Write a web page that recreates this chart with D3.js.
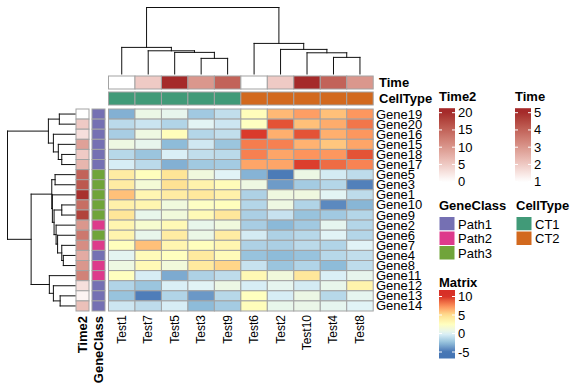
<!DOCTYPE html>
<html><head><meta charset="utf-8">
<script src="https://cdn.jsdelivr.net/npm/d3@7"></script>
<style>body{margin:0;background:#fff} svg{display:block} text{font-family:"Liberation Sans",Arial,Helvetica,sans-serif;fill:#000}</style>
</head><body><svg id="c" width="578" height="391"></svg>
<script>
// ---------- data ----------
const tests = ["Test1","Test7","Test5","Test3","Test9","Test6","Test2","Test10","Test4","Test8"];
const genes = ["Gene19","Gene20","Gene16","Gene15","Gene18","Gene17","Gene5","Gene3","Gene1","Gene10",
               "Gene9","Gene2","Gene6","Gene7","Gene4","Gene8","Gene11","Gene12","Gene13","Gene14"];
const values = [
  [-3.0, 0.8, 0.5,-2.0,-1.0, 2.7, 6.2, 7.0, 6.0, 7.2],
  [-1.2,-0.7,-1.5, 0.2,-0.6, 2.4, 9.2, 6.0, 6.6, 8.2],
  [-1.8, 1.0, 2.7,-1.4,-1.0, 9.8, 6.5, 9.2, 6.5, 7.2],
  [ 1.0, 0.5,-2.6,-0.5,-2.2, 8.0, 7.9, 6.4, 5.8, 6.8],
  [-1.3,-2.2,-0.2,-1.0,-1.2, 7.9, 6.8, 7.3, 7.2, 9.2],
  [-0.3,-1.2,-3.0,-2.0,-1.9, 6.8, 6.8, 9.7, 8.5, 7.8],
  [ 4.0, 2.6, 4.6, 1.2, 0.1,-2.9,-4.8, 0.9,-0.4,-1.1],
  [ 4.0, 1.5, 4.8, 3.5, 2.8, 1.0,-3.7,-1.9,-1.4,-4.6],
  [ 6.0, 3.2, 4.0, 4.3, 3.6,-1.6, 1.1, 1.1, 0.2,-1.1],
  [ 3.6, 3.3, 1.2, 2.3, 2.6,-1.4, 1.0,-1.5,-4.3,-2.8],
  [ 4.5, 0.6, 1.3, 2.9, 4.4,-1.7,-0.8,-2.3,-2.0,-1.4],
  [ 3.3, 1.8, 3.0, 0.6, 1.2,-1.8,-2.7,-2.0, 0.4,-1.4],
  [ 3.4, 0.6, 4.0, 0.8, 4.0,-0.4,-1.6,-1.3, 0.1,-1.4],
  [ 2.6, 6.0, 3.3, 2.6, 3.3,-1.6,-1.7,-1.2,-1.5, 0.1],
  [ 0.3, 2.8, 2.5, 4.2, 2.8,-2.3,-2.6,-2.3,-1.3,-1.0],
  [ 1.0, 3.0, 1.3, 4.2, 5.3,-0.8,-2.2,-1.5,-2.6,-1.1],
  [ 2.5,-0.3,-3.2,-1.6,-1.1, 3.1, 1.3, 4.4,-0.2, 0.5],
  [-1.5,-2.2,-0.2, 0.1, 0.9,-0.3, 0.4,-0.4, 0.6, 3.5],
  [-2.3,-4.7,-1.5,-3.8,-1.3, 2.5,-0.3, 0.9,-1.3, 0.4],
  [-0.6,-1.1,-0.3,-2.6,-1.9, 2.7, 0.6, 0.7, 0.4, 0.1]
];
const timeValues = [1,2,5,3,4,1,2,5,4,3];
const cellTypes = ["CT1","CT1","CT1","CT1","CT1","CT2","CT2","CT2","CT2","CT2"];
const time2Values = [0,5,3,9,5,7,15,16,19.5,14,18,10,13,11,8,10,12,3,1,6];
const geneClasses = ["Path1","Path1","Path1","Path1","Path1","Path1","Path3","Path3","Path3","Path3",
                     "Path3","Path2","Path3","Path2","Path1","Path2","Path2","Path1","Path1","Path1"];
// dendrogram merges: [left, right, height]; numbers refer to earlier merges
const colMerge = [
  ["Test3","Test9",2.35],["Test5",0,3.25],["Test7",1,3.49],["Test1",2,4.0],
  ["Test4","Test8",2.5],["Test10",4,3.19],["Test2",5,3.7],["Test6",6,4.6],[3,7,10]
];
const rowMerge = [
  ["Gene19","Gene20",2.32],["Gene18","Gene17",1.96],["Gene15",1,2.47],["Gene16",2,3.2],[0,3,3.94],
  ["Gene5","Gene3",2.95],["Gene10","Gene9",1.96],["Gene4","Gene8",1.73],["Gene7",7,1.96],
  ["Gene6",8,2.58],["Gene2",9,2.8],[6,10,3.1],["Gene1",11,3.35],[5,12,3.44],
  ["Gene13","Gene14",2.2],["Gene12",14,3.2],["Gene11",15,3.8],[13,16,6.5],[4,17,10]
];
const matrixTicks = [10,5,0,-5];
const time2Ticks = [20,15,10,5,0];
const timeTicks = [5,4,3,2,1];
const classNames = ["Path1","Path2","Path3"];
const cellTypeNames = ["CT1","CT2"];

// ---------- colours ----------
const matColor = d3.scaleLinear().domain([-5,-2.5,0,2.5,5,7.5,10])
  .range(["#4575B4","#91BFDB","#E0F3F8","#FFFFBF","#FEE090","#FC8D59","#D73027"])
  .interpolate(d3.interpolateLab).clamp(true);
const timeColor = d3.scaleLinear().domain([1,5]).range(["#FFFFFF","#A52A2A"]).interpolate(d3.interpolateLab).clamp(true);
const time2Color = d3.scaleLinear().domain([0,20]).range(["#FFFFFF","#A52A2A"]).interpolate(d3.interpolateLab).clamp(true);
const classColor = d3.scaleOrdinal().domain(classNames).range(["#7570B3","#DD3A8B","#70A43A"]);
const ctColor = d3.scaleOrdinal().domain(cellTypeNames).range(["#419A78","#D2691E"]);
const grid = "#a3a3a3";

const svg = d3.select("#c");

// ---------- scales ----------
const x = d3.scaleBand().domain(tests).range([108.5,373.2]);
const y = d3.scaleBand().domain(genes).range([109,311]);

// ---------- heatmap ----------
const hm = svg.append("g");
genes.forEach((g,i)=>{
  hm.selectAll(null).data(values[i]).join("rect")
    .attr("x",(d,j)=>x(tests[j])).attr("y",y(g))
    .attr("width",x.bandwidth()).attr("height",y.bandwidth())
    .attr("fill",d=>matColor(d)).attr("stroke",grid).attr("stroke-width",1);
});

// column annotations
const colAnn = [{name:"Time",y0:76,vals:timeValues,col:timeColor},{name:"CellType",y0:92,vals:cellTypes,col:ctColor}];
colAnn.forEach(a=>{
  svg.append("g").selectAll("rect").data(a.vals).join("rect")
    .attr("x",(d,j)=>x(tests[j])).attr("y",a.y0).attr("width",x.bandwidth()).attr("height",13)
    .attr("fill",d=>a.col(d)).attr("stroke",grid).attr("stroke-width",1);
  svg.append("text").attr("x",379).attr("y",a.y0+6.5).attr("dominant-baseline","central")
    .attr("font-size",13).attr("font-weight","bold").text(a.name);
});
// row annotations
const rowAnn = [{name:"Time2",x0:76,vals:time2Values,col:time2Color},{name:"GeneClass",x0:92,vals:geneClasses,col:classColor}];
rowAnn.forEach(a=>{
  svg.append("g").selectAll("rect").data(a.vals).join("rect")
    .attr("x",a.x0).attr("y",(d,i)=>y(genes[i])).attr("width",13).attr("height",y.bandwidth())
    .attr("fill",d=>a.col(d)).attr("stroke",grid).attr("stroke-width",1);
  svg.append("text").attr("transform",`translate(${a.x0+6.5},316) rotate(-90)`)
    .attr("text-anchor","end").attr("dominant-baseline","central")
    .attr("font-size",13).attr("font-weight","bold").text(a.name);
});

// labels
svg.append("g").selectAll("text").data(genes).join("text")
  .attr("x",376).attr("y",d=>y(d)+y.bandwidth()/2).attr("dominant-baseline","central")
  .attr("font-size",13).text(d=>d);
svg.append("g").selectAll("text").data(tests).join("text")
  .attr("transform",d=>`translate(${x(d)+x.bandwidth()/2},315) rotate(-90)`)
  .attr("text-anchor","end").attr("dominant-baseline","central")
  .attr("font-size",12).text(d=>d);

// ---------- dendrograms ----------
function buildTree(merge){
  const nodes=[];
  const ref=r=> typeof r==="string" ? {leaf:r,h:0} : nodes[r];
  merge.forEach(m=>nodes.push({children:[ref(m[0]),ref(m[1])],h:m[2]}));
  return nodes[nodes.length-1];
}
function layoutTree(n,pos){
  if(n.leaf){n.p=pos(n.leaf);return;}
  n.children.forEach(c=>layoutTree(c,pos));
  n.p=(n.children[0].p+n.children[1].p)/2;
}
function segs(n,out){
  if(n.leaf) return out;
  const [a,b]=n.children;
  out.push([a.p,a.h,a.p,n.h],[b.p,b.h,b.p,n.h],[a.p,n.h,b.p,n.h]);
  segs(a,out);segs(b,out);return out;
}
const colTree=buildTree(colMerge);
layoutTree(colTree,t=>x(t)+x.bandwidth()/2);
const colH=d3.scaleLinear().domain([0,d3.max(colMerge,m=>m[2])]).range([74,7.5]);
svg.append("g").selectAll("line").data(segs(colTree,[])).join("line")
  .attr("x1",d=>d[0]).attr("y1",d=>colH(d[1])).attr("x2",d=>d[2]).attr("y2",d=>colH(d[3]))
  .attr("stroke","#111").attr("stroke-width",1).attr("stroke-linecap","square");
const rowTree=buildTree(rowMerge);
layoutTree(rowTree,g=>y(g)+y.bandwidth()/2);
const rowH=d3.scaleLinear().domain([0,d3.max(rowMerge,m=>m[2])]).range([75,7.5]);
svg.append("g").selectAll("line").data(segs(rowTree,[])).join("line")
  .attr("y1",d=>d[0]).attr("x1",d=>rowH(d[1])).attr("y2",d=>d[2]).attr("x2",d=>rowH(d[3]))
  .attr("stroke","#111").attr("stroke-width",1).attr("stroke-linecap","square");

// ---------- legends ----------
const defs=svg.append("defs");
function colorBar(id,title,x0,tx,ticks,color,yTop,yBot,pad,titleY){
  svg.append("text").attr("x",x0).attr("y",titleY).attr("font-size",13).attr("font-weight","bold").text(title);
  const s=d3.scaleLinear().domain([ticks[0],ticks[ticks.length-1]]).range([yTop,yBot]);
  const y0=yTop-pad,y1=yBot+pad;
  const grad=defs.append("linearGradient").attr("id",id).attr("x1",0).attr("y1",0).attr("x2",0).attr("y2",1);
  d3.range(0,1.0001,0.05).forEach(f=>grad.append("stop").attr("offset",f).attr("stop-color",color(s.invert(y0+f*(y1-y0)))));
  svg.append("rect").attr("x",x0).attr("y",y0).attr("width",16).attr("height",y1-y0).attr("fill",`url(#${id})`);
  const g=svg.append("g");
  g.selectAll("line.l").data(ticks).join("line").attr("x1",x0).attr("x2",x0+3).attr("y1",d=>s(d)).attr("y2",d=>s(d)).attr("stroke","#fff").attr("stroke-width",1);
  g.selectAll("line.r").data(ticks).join("line").attr("x1",x0+13).attr("x2",x0+16).attr("y1",d=>s(d)).attr("y2",d=>s(d)).attr("stroke","#fff").attr("stroke-width",1);
  g.selectAll("text").data(ticks).join("text").attr("x",tx).attr("y",d=>s(d)).attr("dominant-baseline","central").attr("font-size",13).text(d=>d);
}
colorBar("gT2","Time2",439,458,time2Ticks,time2Color,112.7,181.7,4.5,101);
colorBar("gT","Time",515,534,timeTicks,timeColor,112.7,181.7,4.5,101);
colorBar("gM","Matrix",439,458,matrixTicks,matColor,296.5,352,6.5,287);

function discrete(title,x0,tx,names,color){
  svg.append("text").attr("x",x0).attr("y",210).attr("font-size",13).attr("font-weight","bold").text(title);
  const g=svg.append("g");
  g.selectAll("rect").data(names).join("rect").attr("x",x0).attr("y",(d,i)=>216.5+i*14.5).attr("width",16).attr("height",14.5)
    .attr("fill",d=>color(d)).attr("stroke","#fff").attr("stroke-width",1);
  g.selectAll("text").data(names).join("text").attr("x",tx).attr("y",(d,i)=>224+i*14.5).attr("dominant-baseline","central")
    .attr("font-size",13).text(d=>d);
}
discrete("GeneClass",439,458,classNames,classColor);
discrete("CellType",516,535,cellTypeNames,ctColor);
</script></body></html>
